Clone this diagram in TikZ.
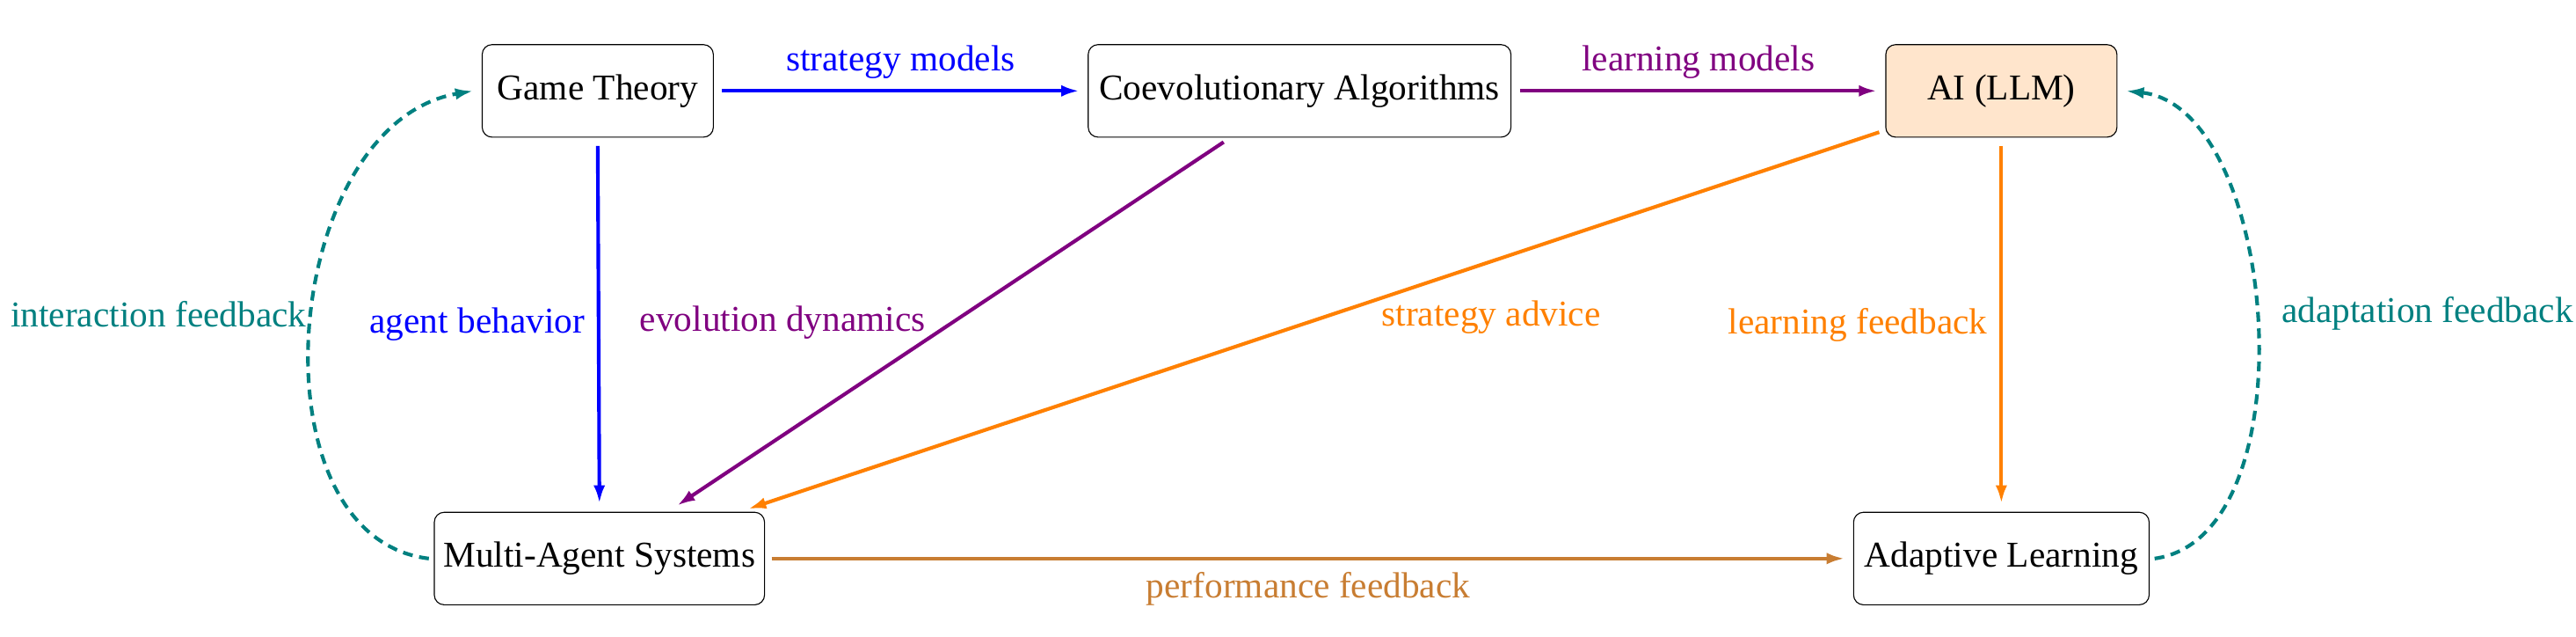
\documentclass[tikz,border=0pt]{standalone}
\usepackage{fontspec}
\setmainfont{Liberation Serif}
\usetikzlibrary{arrows.meta}
\definecolor{tealc}{RGB}{0,128,128}
\definecolor{purp}{RGB}{128,0,128}
\definecolor{orng}{RGB}{255,128,0}
\definecolor{brwn}{RGB}{200,125,50}
\definecolor{aifill}{RGB}{255,229,204}
\begin{document}
\begin{tikzpicture}[x=1pt,y=1pt,
  box/.style={draw=black,line width=0.6pt,rounded corners=6pt,minimum height=56pt,font=\fontsize{22}{26}\selectfont},
  arr/.style={line width=2.2pt,-{Latex[length=11pt,width=7pt]}},
  fb/.style={line width=2.2pt,dashed,dash pattern=on 6pt off 4pt,tealc,-{Latex[length=11pt,width=7pt]}},
  lbl/.style={font=\fontsize{22}{26}\selectfont}]
\useasboundingbox (0,0) rectangle (1560,385);
\node[box,minimum width=140pt] (gt) at (362,330) {Game Theory};
\node[box,minimum width=256pt] (ce) at (787,330) {Coevolutionary Algorithms};
\node[box,minimum width=140pt,fill=aifill] (ai) at (1212,330) {AI (LLM)};
\node[box,minimum width=200pt] (mas) at (363,47) {Multi-Agent Systems};
\node[box,minimum width=179pt] (al) at (1212,47) {Adaptive Learning};
\draw[arr,blue] ([xshift=5pt]gt.east) -- node[lbl,above=3pt]{strategy models} ([xshift=-5pt]ce.west);
\draw[arr,purp] ([xshift=5pt]ce.east) -- node[lbl,above=3pt]{learning models} ([xshift=-5pt]ai.west);
\draw[arr,blue] ([yshift=-5pt]gt.south) -- node[lbl,left=4pt]{agent behavior} ([yshift=5pt]mas.north);
\coordinate (ces) at (741,299);
\coordinate (mast) at (410,79);
\draw[arr,purp] (ces) -- (mast);
\node[lbl,purp] (l1) at (474,190) {evolution dynamics};
\coordinate (aiw) at (1138,305);
\coordinate (masn) at (453,77);
\draw[arr,orng] (aiw) -- (masn);
\node[lbl,orng] (l2) at (903,193) {strategy advice};
\draw[arr,orng] ([yshift=-5pt]ai.south) -- node[lbl,left=4pt]{learning feedback} ([yshift=5pt]al.north);
\draw[arr,brwn] ([xshift=4pt]mas.east) -- node[lbl,below=4pt]{performance feedback} ([xshift=-5pt]al.west);
\draw[fb] ([xshift=-3pt]mas.west) .. controls (150,60) and (170,310) .. ([xshift=-5pt]gt.west);
\node[lbl,tealc] (l3) at (96,195) {interaction feedback};
\draw[fb] ([xshift=3pt]al.east) .. controls (1400,60) and (1380,320) .. ([xshift=5pt]ai.east);
\node[lbl,tealc] (l4) at (1470,195) {adaptation feedback};
\end{tikzpicture}
\end{document}
